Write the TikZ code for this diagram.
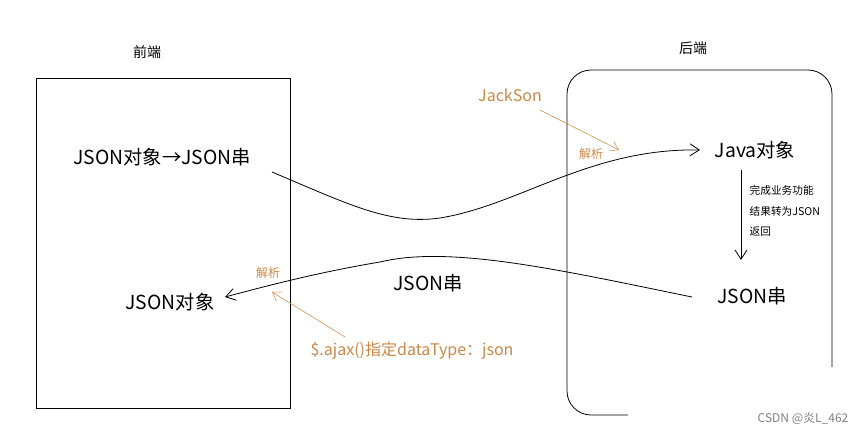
\documentclass[tikz,border=0pt]{standalone}
\usepackage{fontspec}
\setmainfont{Noto Sans CJK SC}
\usetikzlibrary{arrows.meta}
\definecolor{org}{RGB}{205,135,70}
\tikzset{
 big/.style={font=\fontsize{14.5}{16}\selectfont},
 sm/.style={font=\fontsize{8}{9}\selectfont},
 mid/.style={font=\fontsize{10.5}{12}\selectfont},
 ann/.style={org,font=\fontsize{12}{14}\selectfont},
 conn/.style={-{Straight Barb[length=7pt,width=9pt]}, line width=0.6pt},
 thin/.style={org,line width=0.4pt,-{Straight Barb[length=6pt,width=8pt]}}
}
\begin{document}
\begin{tikzpicture}[x=0.75pt,y=-0.75pt]
\useasboundingbox (0,0) rectangle (868,436);
\draw[line width=0.6pt] (36,78) rectangle (290,408);
\draw[line width=0.6pt,rounded corners=18] (628,415) -- (567,415) -- (567,70) -- (832,70) -- (832,367);
\node[mid] (fe) at (147,52) {前端};
\node[mid] (be) at (693,48) {后端};
\node[big] (src) at (162,157) {JSON对象→JSON串};
\node[big] (java) at (755,150) {Java对象};
\node[big] (jr) at (752,296) {JSON串};
\node[big] (jl) at (170,302) {JSON对象};
\node[big] (jm) at (428,283) {JSON串};
\node[ann] (jack) at (510,95) {JackSon};
\node[org,font=\fontsize{9}{10}\selectfont] (p1) at (591,154) {解析};
\node[org,font=\fontsize{9}{10}\selectfont] (p2) at (268,273) {解析};
\node[ann] (ajax) at (412,351) {\$.ajax()指定dataType：json};
\node[sm,anchor=west] (t1) at (745,190) {完成业务功能};
\node[sm,anchor=west] (t2) at (745,211) {结果转为JSON};
\node[sm,anchor=west] (t3) at (745,232) {返回};
\coordinate (c1s) at (272,172);
\coordinate (c1e) at (700,150);
\draw[conn] (c1s) .. controls (350,205) and (390,225) .. (440,218) .. controls (520,205) and (590,148) .. (c1e);
\coordinate (c2s) at (692,297);
\coordinate (c2e) at (225,297);
\draw[conn] (c2s) .. controls (560,270) and (450,245) .. (380,262) .. controls (320,272) and (270,285) .. (c2e);
\coordinate (va) at (741,170);
\coordinate (vb) at (741,260);
\draw[conn] (va) -- (vb);
\draw[thin] (540,110) -- (619,150);
\draw[thin] (345,337) -- (272,292);
\node[gray,font=\fontsize{9}{11}\selectfont] (wm) at (803,418) {CSDN @炎L\_462};
\end{tikzpicture}
\end{document}
